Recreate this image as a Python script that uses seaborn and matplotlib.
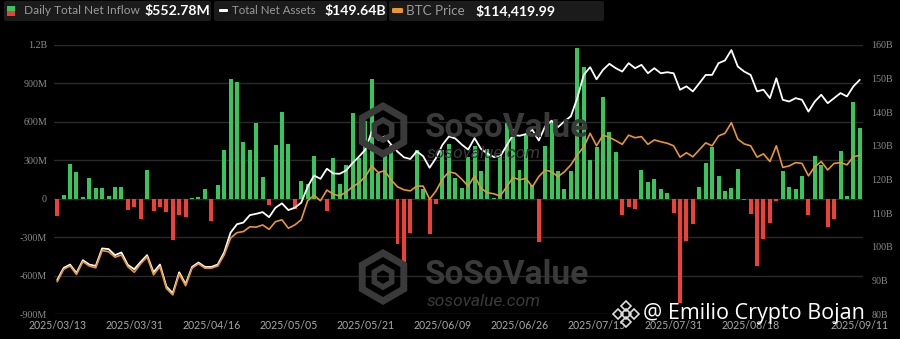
import numpy as np
import pandas as pd
import matplotlib
matplotlib.use("Agg")
import matplotlib.pyplot as plt
import seaborn as sns
from matplotlib.patches import FancyBboxPatch, Rectangle, RegularPolygon
from matplotlib.lines import Line2D

# ---------------- data ----------------
holidays = ["2025-04-18", "2025-05-26", "2025-06-19", "2025-07-04", "2025-09-01"]
trading_days = pd.bdate_range("2025-03-13", "2025-09-11", freq="C", holidays=holidays)
dates = [d.strftime("%Y/%m/%d") for d in trading_days]

# Daily total net inflow (million USD)
flows_m = [
    -138, 31, 273, 205, 10, 164, 80, 80, 23, 88,
    88, -91, -68, -156, 221, -99, -62, -106, -325, -125,
    -145, 2, 15, 76, -172, 106, 382, 935, 914, 439,
    382, 592, 171, -52, 420, 675, 426, -78, 140, 117,
    335, 0, -94, 317, 114, 260, 667, 317, 610, 932,
    200, 382, 420, -353, -613, -267, 382, 78, -275, -42,
    382, 428, 161, 83, 325, 413, 213, 387, 3, 330,
    590, 545, 226, 499, 104, -338, 408, 605, 213, 78,
    213, 1179, 1031, 299, 400, 797, 519, 361, -125, -65,
    -80, 226, 127, 153, 75, 44, -112, -813, -332, -195,
    88, 278, 403, 177, 62, 86, 229, -13, -119, -522,
    -314, -192, -21, 218, 88, 78, 179, -127, 332, 267,
    -223, -156, 369, 21, 756, 552.78,
]

# Total net assets (billion USD)
assets_b = [
    90.1, 93.7, 94.7, 92.2, 96.0, 94.7, 94.3, 99.5, 99.3, 97.5,
    98.3, 94.6, 93.3, 95.5, 97.5, 92.4, 94.7, 88.2, 86.2, 92.4,
    88.9, 94.0, 95.3, 94.0, 94.0, 94.7, 98.3, 104.2, 106.7, 107.2,
    109.4, 109.8, 110.3, 108.8, 111.6, 112.9, 110.9, 111.6, 113.1, 117.8,
    121.2, 120.2, 123.2, 121.8, 121.7, 122.7, 124.9, 126.8, 128.9, 134.3,
    131.8, 132.8, 130.4, 128.3, 126.6, 126.1, 128.4, 126.9, 123.5, 126.4,
    130.3, 132.8, 132.2, 130.4, 128.9, 132.3, 129.1, 127.7, 126.7, 126.9,
    130.1, 133.3, 133.0, 133.5, 134.8, 131.6, 135.8, 137.5, 135.6, 137.3,
    138.8, 144.2, 151.1, 153.4, 149.8, 152.6, 154.4, 153.1, 152.1, 154.6,
    153.1, 154.1, 151.6, 153.1, 151.6, 151.9, 151.6, 146.7, 147.7, 146.2,
    148.6, 151.1, 151.1, 154.6, 155.4, 158.5, 153.6, 152.1, 151.1, 146.2,
    146.7, 144.2, 150.1, 143.7, 143.2, 144.2, 143.7, 140.2, 143.2, 145.2,
    142.7, 144.2, 145.7, 144.7, 147.7, 149.64,
]

# BTC price (thousand USD)
btc_k = [
    79.9, 83.3, 84.2, 81.9, 85.4, 84.2, 83.7, 88.4, 88.1, 86.6,
    87.2, 84.0, 82.5, 84.8, 86.7, 81.8, 84.0, 78.1, 76.3, 82.0,
    78.8, 83.6, 84.8, 83.6, 83.6, 84.2, 87.2, 91.8, 93.3, 93.6,
    94.9, 94.8, 95.4, 94.2, 96.3, 96.8, 94.5, 95.4, 96.8, 102.0,
    103.5, 102.0, 104.9, 103.8, 103.3, 104.4, 105.8, 106.9, 108.6, 111.5,
    109.7, 110.2, 107.7, 105.8, 105.0, 104.7, 106.0, 106.0, 102.4, 104.7,
    107.9, 109.9, 109.5, 107.9, 106.0, 108.8, 105.4, 104.2, 103.9, 103.3,
    105.8, 108.4, 107.7, 108.1, 105.8, 108.6, 110.4, 109.9, 108.6, 109.9,
    111.8, 114.5, 116.7, 120.4, 117.0, 119.9, 119.3, 118.4, 117.4, 119.9,
    119.2, 119.5, 117.4, 118.6, 118.1, 117.7, 117.0, 113.9, 115.1, 114.0,
    115.9, 117.8, 117.0, 119.7, 120.4, 123.3, 118.8, 117.5, 117.0, 113.9,
    114.8, 112.7, 117.0, 111.1, 111.5, 112.4, 112.2, 108.8, 111.3, 112.7,
    110.4, 112.2, 112.4, 111.8, 114.0, 114.42,
]

tick_dates = ["2025/03/13", "2025/03/31", "2025/04/16", "2025/05/05", "2025/05/21",
              "2025/06/09", "2025/06/26", "2025/07/15", "2025/07/31", "2025/08/18",
              "2025/09/11"]
left_ticks_m = [-900, -600, -300, 0, 300, 600, 900, 1200]
left_labels = ["-900M", "-600M", "-300M", "0", "300M", "600M", "900M", "1.2B"]
right_ticks_b = [80, 90, 100, 110, 120, 130, 140, 150, 160]
right_labels = ["80B", "90B", "100B", "110B", "120B", "130B", "140B", "150B", "160B"]

# ---------------- style ----------------
GREEN = "#35c759"
RED = "#ee4037"
ORANGE = "#e8962e"
GRID = "#2a2a2a"
BG = "#000000"

sns.set_theme(style="dark")
plt.rcParams["font.family"] = ["Lato", "DejaVu Sans"]

W, H = 900, 339
fig = plt.figure(figsize=(W / 100, H / 100), dpi=100, facecolor=BG)


def fx(x):
    return x / W


def fy(y):
    return 1 - y / H


ax_l, ax_r, ax_t, ax_b = 54, 863, 45, 314
ax = fig.add_axes([fx(ax_l), fy(ax_b), (ax_r - ax_l) / W, (ax_b - ax_t) / H])
ax.set_facecolor(BG)

df = pd.DataFrame({"date": dates, "flow": np.array(flows_m) * 1e6})
df["dir"] = np.where(df["flow"] >= 0, "in", "out")
n = len(dates)
pos = np.arange(n)

sns.barplot(data=df, x="date", y="flow", hue="dir", order=dates,
            hue_order=["in", "out"], palette={"in": GREEN, "out": RED},
            dodge=False, width=0.62, saturation=1, legend=False, ax=ax,
            edgecolor="none", linewidth=0, zorder=2)

ax.set_ylim(-900e6, 1200e6)
ax.set_yticks(np.array(left_ticks_m) * 1e6)
ax.set_yticklabels(left_labels)
ax.grid(axis="y", color=GRID, lw=1.0, zorder=0)
ax.grid(axis="x", visible=False)
ax.set_axisbelow(True)
ax.set_xlabel("")
ax.set_ylabel("")
tick_pos = [dates.index(t) for t in tick_dates]
ax.set_xticks(tick_pos)
ax.set_xticklabels(tick_dates)
ax.tick_params(axis="x", length=0, pad=4, labelsize=7.6, labelcolor="#a9a9a9")
ax.tick_params(axis="y", length=0, pad=5, labelsize=7.2, labelcolor="#8c8c8c")
for lbl in ax.get_yticklabels():
    lbl.set_fontfamily(["Liberation Serif", "DejaVu Serif"])
for s in ax.spines.values():
    s.set_visible(False)

# Total net assets on right axis
ax2 = ax.twinx()
sns.lineplot(x=pos, y=assets_b, ax=ax2, color="white", lw=1.3, zorder=3)
ax2.set_ylim(80, 160)
ax2.set_yticks(right_ticks_b)
ax2.set_yticklabels(right_labels)
ax2.tick_params(axis="y", length=0, pad=6, labelsize=7.2, labelcolor="#8c8c8c")
for lbl in ax2.get_yticklabels():
    lbl.set_fontfamily(["Liberation Serif", "DejaVu Serif"])
ax2.grid(False)
ax2.set_ylabel("")
for s in ax2.spines.values():
    s.set_visible(False)

# BTC price on a hidden axis
ax3 = ax.twinx()
sns.lineplot(x=pos, y=btc_k, ax=ax3, color=ORANGE, lw=1.2, zorder=4)
ax3.set_ylim(71.1, 144.5)
ax3.axis("off")

ax.set_xlim(-0.5, n - 0.5)

# ---------------- watermarks ----------------
WM = "#3a3a3a"
for cy in (128, 275):
    fig.text(fx(425), fy(cy), "SoSoValue", fontsize=24, fontweight="bold",
             family=["Roboto", "DejaVu Sans"], color=WM, ha="left", va="center", zorder=1)
    fig.text(fx(427), fy(cy + 26), "sosovalue.com", fontsize=12.5, style="italic",
             family=["Roboto", "DejaVu Sans"], color=WM, ha="left", va="center", zorder=1)
    hexo = RegularPolygon((3.83, (H - cy - 2) / 100), numVertices=6, radius=0.24,
                          orientation=0, transform=fig.dpi_scale_trans,
                          facecolor="none", edgecolor=WM, lw=5, zorder=1)
    fig.add_artist(hexo)
    hexi = RegularPolygon((3.83, (H - cy - 2) / 100), numVertices=6, radius=0.1,
                          orientation=0, transform=fig.dpi_scale_trans,
                          facecolor="none", edgecolor=WM, lw=4, zorder=1)
    fig.add_artist(hexi)

# Binance-style author mark
fig.text(fx(643), fy(314), "@ Emilio Crypto Bojan", fontsize=15.5,
         family=["Open Sans", "DejaVu Sans"], color="white", ha="left", va="center", zorder=10)
for dx, dy, ms in [(0, -8, 5), (-8, 0, 5), (8, 0, 5), (0, 0, 5), (0, 8, 5)]:
    fig.add_artist(Line2D([fx(626 + dx)], [fy(314 + dy)], marker="D", ms=ms,
                          mfc="none", mec="#dddddd", mew=1.2, transform=fig.transFigure, zorder=10))

# ---------------- legend boxes ----------------
def box(x0, x1):
    fig.add_artist(FancyBboxPatch((fx(x0), fy(21)), fx(x1) - fx(x0), fy(1) - fy(21),
                                  boxstyle="round,pad=0,rounding_size=0.004",
                                  transform=fig.transFigure, facecolor="#1b1b1b",
                                  edgecolor="none", zorder=5))


box(4, 211)
box(214, 387)
box(389, 604)

fig.add_artist(Rectangle((fx(7), fy(11)), fx(8), fy(6) - fy(11), transform=fig.transFigure,
                         facecolor=GREEN, edgecolor="none", zorder=6))
fig.add_artist(Rectangle((fx(7), fy(16)), fx(8), fy(11) - fy(16), transform=fig.transFigure,
                         facecolor=RED, edgecolor="none", zorder=6))
fig.add_artist(FancyBboxPatch((fx(219), fy(12)), fx(9), fy(9) - fy(12),
                              boxstyle="round,pad=0,rounding_size=0.002",
                              transform=fig.transFigure, facecolor="white", edgecolor="none", zorder=6))
fig.add_artist(FancyBboxPatch((fx(392), fy(13)), fx(11), fy(8) - fy(13),
                              boxstyle="round,pad=0,rounding_size=0.002",
                              transform=fig.transFigure, facecolor=ORANGE, edgecolor="none", zorder=6))

legend_items = [
    (24, "Daily Total Net Inflow", 144, "$552.78M", 8.6),
    (232, "Total Net Assets", 324, "$149.64B", 8.3),
    (406, "BTC Price", 475, "$114,419.99", 9.6),
]
for xl, lab, xv, val, fs in legend_items:
    fig.text(fx(xl), fy(11), lab, fontsize=fs, color="#9a9a9a", ha="left", va="center", zorder=7)
    fig.text(fx(xv), fy(11), val, fontsize=10.2, fontweight="bold", color="white",
             ha="left", va="center", zorder=7)

fig.savefig("out.png", dpi=100, facecolor=BG)
